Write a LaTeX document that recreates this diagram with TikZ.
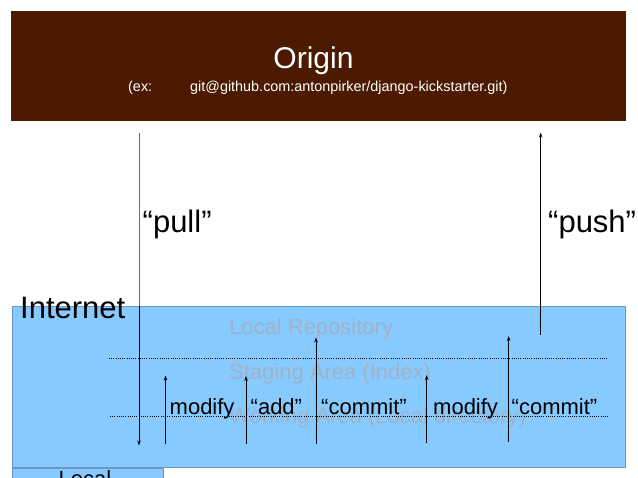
\documentclass[tikz,border=0pt]{standalone}
\usepackage{fontspec}
\setmainfont{Liberation Sans}
\usetikzlibrary{arrows.meta}
\definecolor{origbrown}{RGB}{75,26,0}
\definecolor{localblue}{RGB}{135,202,255}
\definecolor{localedge}{RGB}{110,150,190}
\definecolor{fadetext}{RGB}{160,178,198}
\definecolor{pullgray}{RGB}{110,110,110}
\newcommand{\fsz}[1]{\fontsize{#1}{#1}\selectfont}
\tikzset{
  txt/.style={inner sep=0pt, anchor=base west},
  faded/.style={txt, text=fadetext, font=\fsz{22}},
  lbl/.style={txt, text=black, font=\fsz{22}},
  big/.style={txt, text=black, font=\fsz{31}},
  flow/.style={line width=0.8pt, -{Stealth[length=5pt,width=3.5pt]}},
  sep/.style={line width=0.7pt, dash pattern=on 1pt off 1.2pt},
}
\begin{document}
\begin{tikzpicture}[x=1pt,y=-1pt]
\clip (0,0) rectangle (638,478);
\fill[white] (0,0) rectangle (638,478);
% origin box
\node[fill=origbrown, minimum width=615pt, minimum height=110pt, inner sep=0pt, anchor=north west] (origin) at (10.5,11) {};
\node[inner sep=0pt, anchor=base, text=white, font=\fsz{30}] (origtitle) at (313.5,68.5) {Origin};
\node[txt, text=white, font=\fsz{14.4}] (ex) at (128,91.5) {(ex:};
\node[txt, text=white, font=\fsz{14.4}] (url) at (190,91.5) {git@github.com:antonpirker/django-kickstarter.git)};
% local box
\node[fill=localblue, draw=localedge, line width=0.5pt, minimum width=613pt, minimum height=161pt, inner sep=0pt, anchor=north west] (local) at (11.5,306.5) {};
\node[fill=localblue, draw=localedge, line width=0.5pt, minimum width=151pt, minimum height=20pt, inner sep=0pt, anchor=north west] (localtab) at (12,468.5) {};
\node[inner sep=0pt, anchor=base, text=black, font=\fsz{22}] (localtxt) at (85,486.5) {Local};
% faded layer names
\node[faded] (repo) at (229,335) {Local Repository};
\node[faded] (stage) at (229,379.5) {Staging Area (Index)};
\node[faded] (work) at (229,423.5) {Working Area (Local directory)};
% separators
\coordinate (s1a) at (109,358.3);
\coordinate (s1b) at (607,358.3);
\coordinate (s2a) at (110,416.3);
\coordinate (s2b) at (608,416.3);
\draw[sep] (s1a) -- (s1b);
\draw[sep] (s2a) -- (s2b);
% pull / push
\coordinate (pulltop) at (139,132.7);
\coordinate (pullend) at (139,445.5);
\draw[flow, draw=black] (pulltop) -- (pullend);
\draw[line width=0.8pt, pullgray] (pulltop) -- (139,306);
\coordinate (pushbot) at (540.7,335);
\coordinate (pushtop) at (540.7,132.5);
\draw[flow] (pushbot) -- (pushtop);
\node[big] (pull) at (142.5,233) {“pull”};
\node[big] (push) at (548,233) {“push”};
\node[big] (internet) at (20,319) {Internet};
% local arrows
\coordinate (m1b) at (165.5,444); \coordinate (m1t) at (165.5,375.5);
\coordinate (a1b) at (246,444);   \coordinate (a1t) at (246,376);
\coordinate (c1b) at (316,444);   \coordinate (c1t) at (316,337.5);
\coordinate (m2b) at (426.7,443); \coordinate (m2t) at (426.7,375);
\coordinate (c2b) at (508.7,442); \coordinate (c2t) at (508.7,336);
\draw[flow] (m1b) -- (m1t);
\draw[flow] (a1b) -- (a1t);
\draw[flow] (c1b) -- (c1t);
\draw[flow] (m2b) -- (m2t);
\draw[flow] (c2b) -- (c2t);
% labels
\node[lbl] (modify1) at (169.5,415) {modify};
\node[lbl] (add) at (250.5,415) {“add”};
\node[lbl] (commit1) at (321,415) {“commit”};
\node[lbl] (modify2) at (433,415) {modify};
\node[lbl] (commit2) at (511.5,415) {“commit”};
\end{tikzpicture}
\end{document}
